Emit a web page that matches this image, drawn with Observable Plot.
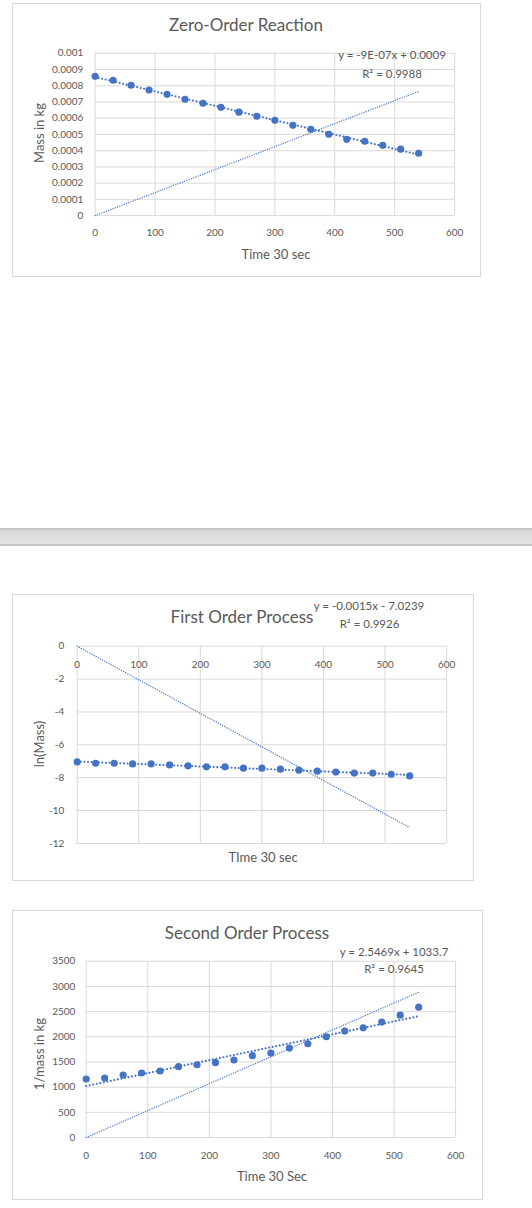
<!DOCTYPE html>
<html><head><meta charset="utf-8">
<script src="https://cdn.jsdelivr.net/npm/d3@7"></script>
<script src="https://cdn.jsdelivr.net/npm/@observablehq/plot@0.6"></script>
<style>
html,body{margin:0;padding:0;background:#fff;}
#page{position:relative;width:532px;height:1208px;overflow:hidden;font-family:Lato,"Open Sans",sans-serif;color:#595959;}
.box{position:absolute;border:1px solid #d9d9d9;box-sizing:border-box;background:#fff;}
.box svg{position:absolute;left:-1px;top:-1px;}
.t{position:absolute;white-space:nowrap;transform:translate(-50%,-50%);line-height:1;}
.title{font-size:17px;}
.eq{font-size:11.5px;}
.ax{font-size:13px;}
.rot{transform:translate(-50%,-50%) rotate(-90deg);}
.band{position:absolute;left:0;width:532px;top:528px;height:18px;background:linear-gradient(#dadada,#e2e2e2);border-top:2px solid #c6c6c6;border-bottom:2px solid #c6c6c6;box-sizing:border-box;}
</style></head>
<body><div id="page"></div>
<script>
// ---- data ----
const time = [0,30,60,90,120,150,180,210,240,270,300,330,360,390,420,450,480,510,540];
const massKg = [0.000858,0.000834,0.000803,0.000774,0.000747,0.000717,0.000692,0.000667,0.000637,0.000612,0.000587,0.000556,0.000532,0.000501,0.000470,0.000458,0.000433,0.000409,0.000384];
const lnMass = [-7.04,-7.12,-7.12,-7.16,-7.16,-7.22,-7.28,-7.34,-7.34,-7.42,-7.42,-7.48,-7.54,-7.60,-7.66,-7.72,-7.72,-7.79,-7.89];
const invMass = [1162,1182,1241,1281,1321,1407,1446,1486,1539,1625,1677,1776,1862,2001,2113,2179,2292,2430,2589];
// second dotted line drawn in each chart (endpoints)
const refTime = [0,540];
const zeroRef = [0,0.000765];
const firstRef = [0,-11.03];
const secondRef = [0,2886];
// ticks
const xTicks = [0,100,200,300,400,500,600];
const zeroYTicks = [0,0.0001,0.0002,0.0003,0.0004,0.0005,0.0006,0.0007,0.0008,0.0009,0.001];
const firstYTicks = [-12,-10,-8,-6,-4,-2,0];
const secondYTicks = [0,500,1000,1500,2000,2500,3000,3500];
// texts
const titles = ["Zero-Order Reaction","First Order Process","Second Order Process"];
const equations = ["y = -9E-07x + 0.0009","y = -0.0015x - 7.0239","y = 2.5469x + 1033.7"];
const rsq = ["R² = 0.9988","R² = 0.9926","R² = 0.9645"];
const xTitles = ["Time 30 sec","TIme 30 sec","Time 30 Sec"];
const yTitles = ["Mass in kg","ln(Mass)","1/mass in kg"];

const blue = "#4472c4";
const grid = "#d9d9d9";
const ink = "#595959";
const page = document.getElementById("page");

function chart(c) {
  const data = time.map((t,i)=>({t, v:c.ys[i]}));
  const ref = refTime.map((t,i)=>({t, v:c.refY[i]}));
  const marks = [
    Plot.gridX(xTicks,{stroke:grid,strokeOpacity:1}),
    Plot.gridY(c.yTicks,{stroke:grid,strokeOpacity:1}),
    Plot.axisY(c.yTicks,{tickSize:0,tickPadding:c.yPad,tickFormat:c.yFmt,fontSize:10,fill:ink,label:null}),
    c.xTop
      ? Plot.text(xTicks,{x:d=>d,frameAnchor:"top",dy:c.xPad,text:d=>String(d),fontSize:10,fill:ink})
      : Plot.axisX(xTicks,{tickSize:0,tickPadding:c.xPad,tickFormat:d=>String(d),fontSize:10,fill:ink,label:null}),
    Plot.line(ref,{x:"t",y:"v",stroke:blue,strokeWidth:1.35,strokeDasharray:"0.01,2.4",strokeLinecap:"round"}),
    Plot.linearRegressionY(data,{x:"t",y:"v",stroke:blue,strokeWidth:2.1,strokeDasharray:"0.01,3.6",strokeLinecap:"round",ci:0}),
    Plot.dot(data,{x:"t",y:"v",r:3.6,fill:blue,stroke:"none"})
  ];
  const svg = Plot.plot({
    width:c.w, height:c.h,
    marginLeft:c.ml, marginRight:c.mr, marginTop:c.mt, marginBottom:c.mb,
    style:{fontFamily:"Lato, sans-serif",background:"transparent",overflow:"visible"},
    x:{domain:[0,600],axis:null}, y:{domain:c.yDomain,axis:null},
    marks
  });
  const box = document.createElement("div");
  box.className = "box";
  Object.assign(box.style,{left:c.left+"px",top:c.top+"px",width:c.w+"px",height:c.h+"px"});
  box.appendChild(svg);
  page.appendChild(box);
  const put = (txt,cls,x,y)=>{const d=document.createElement("div");d.className="t "+cls;d.textContent=txt;d.style.left=x+"px";d.style.top=y+"px";page.appendChild(d);};
  put(titles[c.i],"title",c.title[0],c.title[1]);
  put(equations[c.i],"eq",c.eq[0],c.eq[1]);
  put(rsq[c.i],"eq",c.r2[0],c.r2[1]);
  put(xTitles[c.i],"ax",c.xt[0],c.xt[1]);
  put(yTitles[c.i],"ax rot",c.yt[0],c.yt[1]);
}

chart({i:0,left:12,top:3,w:469,h:274,ml:83,mr:25,mt:50,mb:61,ys:massKg,refY:zeroRef,
  yDomain:[0,0.001],yTicks:zeroYTicks,yFmt:d=>d===0?"0":String(+d.toFixed(4)),yPad:12,xPad:13,xTop:false,
  title:[246,24],eq:[392,55],r2:[392,73.5],xt:[276,254],yt:[39,133]});

chart({i:1,left:12,top:594,w:462,h:287,ml:65,mr:26,mt:52,mb:37,ys:lnMass,refY:firstRef,
  yDomain:[-12,0],yTicks:firstYTicks,yFmt:d=>String(d),yPad:13,xPad:15,xTop:true,
  title:[242,615.5],eq:[369,605.5],r2:[369.5,623.5],xt:[263,856.5],yt:[39,744]});

chart({i:2,left:12,top:910,w:471,h:290,ml:74,mr:26,mt:51,mb:62,ys:invMass,refY:secondRef,
  yDomain:[0,3500],yTicks:secondYTicks,yFmt:d=>String(d),yPad:11,xPad:14,xTop:false,
  title:[247,931.5],eq:[394,952],r2:[394,969],xt:[272,1175.5],yt:[39,1054]});

const band = document.createElement("div");
band.className = "band";
page.appendChild(band);
</script>
</body></html>
